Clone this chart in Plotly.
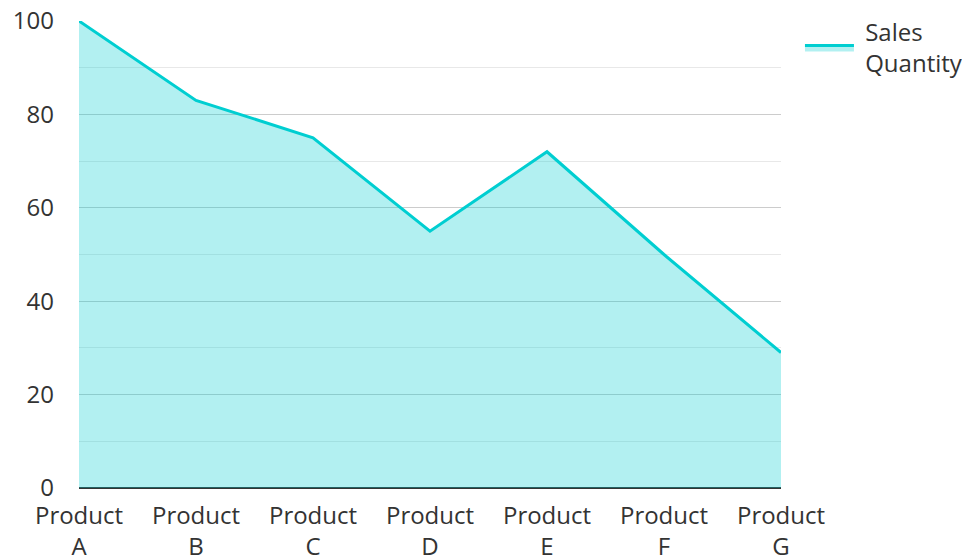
import plotly.graph_objects as go

categories = ["Product<br>A", "Product<br>B", "Product<br>C", "Product<br>D",
              "Product<br>E", "Product<br>F", "Product<br>G"]
sales = [100, 83, 75, 55, 72, 50, 29]
y_ticks = [0, 20, 40, 60, 80, 100]

font_family = "Open Sans, Noto Sans, sans-serif"
text_color = "#333333"

fig = go.Figure()
fig.add_trace(go.Scatter(
    x=categories, y=sales, mode="lines", name="\u00a0Sales<br>\u00a0Quantity",
    line=dict(color="#00CED1", width=3),
    fill="tozeroy", fillcolor="rgba(0,206,209,0.3)",
    cliponaxis=False,
))

fig.update_layout(
    width=962, height=552,
    margin=dict(l=71, r=189, t=13, b=72, autoexpand=False),
    paper_bgcolor="white", plot_bgcolor="white",
    font=dict(family=font_family, size=24, color=text_color),
    showlegend=True,
    legend=dict(x=1.027, y=1.024, xanchor="left", yanchor="top",
                itemwidth=49,
                font=dict(size=24, color=text_color),
                bgcolor="rgba(0,0,0,0)"),
)
fig.update_xaxes(
    type="category", range=[0, 6],
    showgrid=False, zeroline=False,
    showline=False, ticks="",
    automargin=False,
    ticklabelstandoff=11,
    ticklabeloverflow="allow",
    tickfont=dict(size=24, color=text_color),
)
fig.update_yaxes(
    range=[0, 100], tickvals=y_ticks,
    showgrid=True, gridcolor="#cccccc", gridwidth=1,
    zeroline=True, zerolinecolor="#333333", zerolinewidth=2,
    showline=False, ticks="",
    automargin=False,
    ticklabelstandoff=24,
    ticklabeloverflow="allow",
    tickfont=dict(size=24, color=text_color),
    minor=dict(dtick=10, showgrid=True, gridcolor="#e8e8e8", gridwidth=1),
)

fig.write_html("out.html")
